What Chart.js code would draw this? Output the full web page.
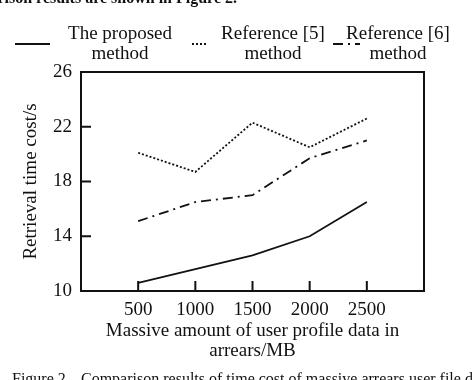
<!DOCTYPE html>
<html>
<head>
<meta charset="utf-8">
<script src="https://cdn.jsdelivr.net/npm/chart.js@4/dist/chart.umd.min.js"></script>
<style>
  body { margin: 0; background: #fff; }
  canvas { display: block; }
</style>
</head>
<body>
<canvas id="myChart" width="474" height="380"></canvas>
<script>
const dataSizes = [500, 1000, 1500, 2000, 2500];
const proposedTimes = [10.6, 11.6, 12.6, 14.0, 16.5];
const ref5Times = [20.1, 18.7, 22.3, 20.5, 22.6];
const ref6Times = [15.1, 16.5, 17.0, 19.7, 21.0];
const yTicks = [10, 14, 18, 22, 26];
const seriesNames = [
  ["The proposed", "method"],
  ["Reference [5]", "method"],
  ["Reference [6]", "method"],
];

const ink = "#111";
const serif = "'Liberation Serif', 'Times New Roman', serif";
Chart.defaults.font.family = serif;
Chart.defaults.color = ink;

const toPoints = (values) => values.map((v, i) => ({ x: dataSizes[i], y: v }));

const makeDataset = (label, values, dash) => ({
  label: label.join(" "),
  data: toPoints(values),
  borderColor: ink,
  borderWidth: 1.8,
  borderDash: dash,
  pointRadius: 0,
  tension: 0,
  fill: false,
});

// frame, inward ticks, legend and the clipped page text
const extras = {
  id: "extras",
  afterDatasetsDraw(chart) {
    const { ctx, chartArea: a, scales } = chart;
    ctx.save();
    ctx.strokeStyle = ink;
    ctx.lineWidth = 2;
    ctx.setLineDash([]);
    ctx.strokeRect(a.left, a.top, a.right - a.left, a.bottom - a.top);

    ctx.beginPath();
    for (const v of yTicks) {
      const y = scales.y.getPixelForValue(v);
      ctx.moveTo(a.left, y);
      ctx.lineTo(a.left + 10, y);
    }
    for (const v of dataSizes) {
      const x = scales.x.getPixelForValue(v);
      ctx.moveTo(x, a.bottom);
      ctx.lineTo(x, a.bottom - 10);
    }
    ctx.stroke();
    ctx.restore();
  },
  afterDraw(chart) {
    const { ctx } = chart;
    const samples = [
      { x1: 15, x2: 50, tx: 120 },
      { x1: 192, x2: 207, tx: 273 },
      { x1: 333, x2: 360, tx: 398 },
    ];
    ctx.save();
    chart.data.datasets.forEach((ds, i) => {
      const s = samples[i];
      ctx.strokeStyle = ink;
      ctx.lineWidth = 2;
      ctx.setLineDash(ds.borderDash || []);
      ctx.beginPath();
      ctx.moveTo(s.x1, 44);
      ctx.lineTo(s.x2, 44);
      ctx.stroke();

      ctx.setLineDash([]);
      ctx.fillStyle = ink;
      ctx.font = "19px " + serif;
      ctx.textAlign = "center";
      ctx.textBaseline = "middle";
      ctx.fillText(seriesNames[i][0], s.tx, 34);
      ctx.fillText(seriesNames[i][1], s.tx, 54);
    });

    ctx.font = "bold 16px " + serif;
    ctx.textAlign = "right";
    ctx.textBaseline = "alphabetic";
    ctx.fillText("the comparison results are shown in Figure 2.", 237, 3);

    ctx.font = "16px " + serif;
    ctx.textAlign = "left";
    ctx.fillText("Figure 2", 12, 384);
    ctx.fillText("Comparison results of time cost of massive arrears user file data", 81, 384);
    ctx.restore();
  },
};

new Chart(document.getElementById("myChart"), {
  type: "line",
  data: {
    datasets: [
      makeDataset(seriesNames[0], proposedTimes, []),
      makeDataset(seriesNames[1], ref5Times, [2, 2]),
      makeDataset(seriesNames[2], ref6Times, [10, 5, 2, 5]),
    ],
  },
  options: {
    responsive: false,
    animation: false,
    layout: { padding: { left: 0, top: 72, right: 50, bottom: 0 } },
    plugins: { legend: { display: false }, tooltip: { enabled: false } },
    scales: {
      x: {
        type: "linear",
        min: 0,
        max: 3000,
        grid: { display: false, drawTicks: false },
        border: { display: false },
        ticks: {
          stepSize: 500,
          padding: 8,
          font: { size: 19 },
          color: ink,
          callback: (v) => (v === 0 || v === 3000 ? "" : v),
        },
        title: {
          display: true,
          text: ["Massive amount of user profile data in", "arrears/MB"],
          font: { size: 19, lineHeight: 1.05 },
          color: ink,
          padding: { top: 0, bottom: 19 },
        },
        afterFit: (s) => { s.height = 89; },
      },
      y: {
        min: 10,
        max: 26,
        grid: { display: false, drawTicks: false },
        border: { display: false },
        ticks: { stepSize: 4, padding: 9, font: { size: 19 }, color: ink },
        title: {
          display: true,
          text: "Retrieval time cost/s",
          font: { size: 19, lineHeight: 1.2 },
          color: ink,
          padding: { top: 20, bottom: 0 },
        },
        afterFit: (s) => { s.width = 81; },
      },
    },
  },
  plugins: [extras],
});
</script>
</body>
</html>
